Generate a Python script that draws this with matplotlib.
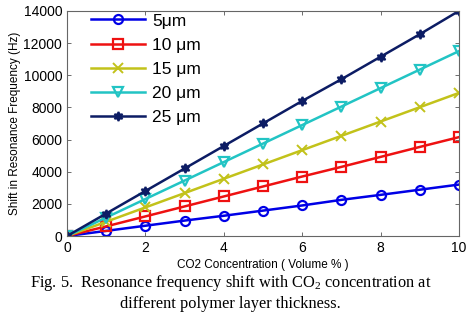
import numpy as np
import matplotlib.pyplot as plt

# CO2 concentration (volume %)
conc = [0, 1, 2, 3, 4, 5, 6, 7, 8, 9, 10]

# frequency shift (Hz) for each polymer layer thickness
shift_5um = [0, 320, 640, 960, 1260, 1580, 1900, 2250, 2560, 2880, 3200]
shift_10um = [0, 600, 1220, 1840, 2460, 3080, 3700, 4300, 4920, 5540, 6150]
shift_15um = [0, 890, 1780, 2670, 3560, 4450, 5340, 6230, 7120, 8010, 8900]
shift_20um = [0, 1150, 2300, 3450, 4600, 5750, 6900, 8050, 9200, 10350, 11500]
shift_25um = [0, 1400, 2800, 4200, 5600, 7000, 8400, 9750, 11150, 12550, 14000]

labels = ['5\u03bcm', '10 \u03bcm', '15 \u03bcm', '20 \u03bcm', '25 \u03bcm']
colors = ['#0000e6', '#ee1111', '#c2c21a', '#22c4c4', '#0c1c64']
markers = ['o', 's', 'x', 'v', (6, 1, 0)]

plt.rcParams['font.family'] = ['Liberation Sans', 'DejaVu Sans']
plt.rcParams['mathtext.fontset'] = 'custom'
plt.rcParams['mathtext.rm'] = 'Liberation Serif'

fig = plt.figure(figsize=(4.74, 3.23), dpi=100)
ax = fig.add_axes([0.1414, 0.2693, 0.827, 0.697])

series = [shift_5um, shift_10um, shift_15um, shift_20um, shift_25um]
for ys, lab, c, m in zip(series, labels, colors, markers):
    if m in ('o', 's', 'v'):
        ax.plot(conc, ys, color=c, lw=1.8, marker=m, ms=6.5,
                mfc='none', mew=1.6, label=lab)
    else:
        ax.plot(conc, ys, color=c, lw=1.8, marker=m, ms=6.5,
                mfc=c, mew=1.4, label=lab)

ax.set_xlim(0, 10)
ax.set_ylim(0, 14000)
ax.set_xticks([0, 2, 4, 6, 8, 10])
ax.set_yticks(np.arange(0, 14001, 2000))
ax.tick_params(direction='in', top=True, right=True, labelsize=10,
               length=3, width=0.6, color='#555555')
for sp in ax.spines.values():
    sp.set_color('#666666')
    sp.set_linewidth(0.8)

ax.set_xlabel('CO2 Concentration ( Volume % )', fontsize=8.5, labelpad=3)
ax.set_ylabel('Shift in Resonance Frequency (Hz)', fontsize=8.5, labelpad=2)

ax.legend(loc='upper left', frameon=False, fontsize=12.5,
          handlelength=3.1, handletextpad=0.4, labelspacing=0.52,
          borderaxespad=0.2, bbox_to_anchor=(0.035, 1.035))

# figure caption
fig.text(0.487, 0.125,
         r'Fig. 5.  Resonance frequency shift with $\mathrm{CO}_2$ concentration at',
         ha='center', va='center', fontsize=11.8, family='Liberation Serif')
fig.text(0.487, 0.06, 'different polymer layer thickness.',
         ha='center', va='center', fontsize=11.8, family='Liberation Serif')

fig.savefig('out.png', dpi=100)
